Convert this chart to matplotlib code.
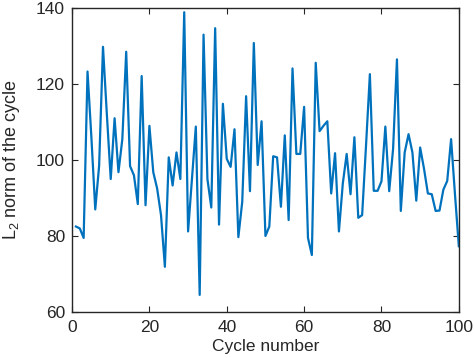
import matplotlib
matplotlib.use("Agg")
import matplotlib.pyplot as plt

cycles = list(range(1, 101))
norms = [
    82.5, 82.0, 79.5, 123.3, 106.0, 87.0, 98.5, 129.8, 112.0, 95.0,
    111.0, 96.8, 105.5, 128.5, 98.4, 96.0, 88.4, 122.1, 88.1, 109.0,
    96.8, 92.5, 85.5, 71.9, 100.7, 93.3, 102.0, 95.0, 138.9, 81.2,
    95.0, 108.8, 64.5, 133.0, 95.0, 87.5, 134.7, 83.0, 114.8, 100.3,
    98.2, 108.1, 79.7, 89.0, 116.8, 91.8, 130.8, 98.7, 110.2, 80.0,
    82.5, 101.0, 100.7, 87.7, 106.5, 84.2, 124.1, 101.6, 101.6, 114.0,
    79.5, 75.0, 125.6, 107.6, 109.0, 110.2, 91.2, 101.8, 81.2, 93.8,
    101.6, 91.0, 106.0, 84.8, 85.5, 103.7, 122.6, 91.9, 91.9, 94.4,
    108.8, 91.8, 102.9, 126.5, 86.6, 102.0, 106.8, 102.0, 89.3, 103.3,
    97.7, 91.2, 91.0, 86.6, 86.7, 92.2, 94.5, 105.5, 91.0, 77.3,
]
xticks = [0, 20, 40, 60, 80, 100]
yticks = [60, 80, 100, 120, 140]

plt.rcParams['font.family'] = ['Liberation Sans', 'DejaVu Sans']
plt.rcParams['mathtext.fontset'] = 'custom'
plt.rcParams['mathtext.rm'] = 'Liberation Sans'
plt.rcParams['mathtext.it'] = 'Liberation Sans'

fig = plt.figure(figsize=(4.74, 3.58), dpi=100)
ax = fig.add_axes([0.152, 0.1285, 0.816, 0.849])
ax.plot(cycles, norms, color='#0072BD', linewidth=1.6)
ax.set_xlim(0, 100)
ax.set_ylim(60, 140)
ax.set_xticks(xticks)
ax.set_yticks(yticks)
ax.tick_params(direction='in', top=True, right=True, length=4, width=0.8,
               labelsize=12.5, colors='#262626')
ax.tick_params(axis='x', pad=6)
ax.tick_params(axis='y', pad=5)
for s in ax.spines.values():
    s.set_linewidth(1.0)
    s.set_color('#262626')
ax.set_xlabel('Cycle number', fontsize=12.5, labelpad=3, color='#262626')
ax.set_ylabel(r'L$_2$ norm of the cycle', fontsize=13, labelpad=10, color='#262626')
fig.savefig('out.png', dpi=100)
